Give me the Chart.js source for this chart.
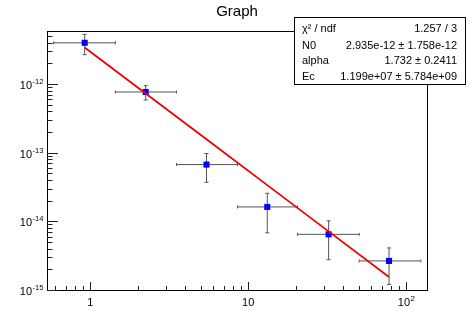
<!DOCTYPE html>
<html>
<head>
<meta charset="utf-8">
<script src="https://cdn.jsdelivr.net/npm/chart.js@4"></script>
<style>
  html, body { margin: 0; padding: 0; background: #fff; }
  #wrap { width: 474px; height: 323px; }
</style>
</head>
<body>
<div id="wrap"><canvas id="graph" width="474" height="323"></canvas></div>
<script>
// measured points (log bins in x)
const xVals = [0.92, 2.24, 5.44, 13.2, 32.3, 78];
const yVals = [3.97e-12, 7.64e-13, 6.7e-14, 1.62e-14, 6.46e-15, 2.65e-15];
const xLow = [0.585, 1.44, 3.51, 8.55, 20.5, 50.5];
const xHigh = [1.44, 3.51, 8.55, 20.5, 50.5, 124];
const yErr = [1.3e-12, 1.8e-13, 3.0e-14, 9.4e-15, 3.7e-15, 1.45e-15];

// fit result: N0 * x^-alpha * exp(-x/Ec)
const N0 = 2.935e-12;
const alpha = 1.732;
const Ec = 1.199e7;

const statLabels = ['χ² / ndf', 'N0', 'alpha', 'Ec'];
const statValues = ['1.257 / 3', '2.935e-12 ± 1.758e-12', '1.732 ± 0.2411', '1.199e+07 ± 5.784e+09'];

const xTickValues = [1, 10, 100];
const xTickBase = ['1', '10', '10'];
const xTickExp = ['', '', '2'];
const yTickExps = [-15, -14, -13, -12];

const FONT = '"Liberation Sans", Arial, Helvetica, sans-serif';

const points = xVals.map((x, i) => ({ x: x, y: yVals[i] }));
const fitLine = xVals.map(x => ({ x: x, y: N0 * Math.pow(x, -alpha) * Math.exp(-x / Ec) }));

function fitText(ctx, text, x, y, size, align) {
    ctx.font = size + 'px ' + FONT;
    ctx.textAlign = align;
    ctx.fillText(text, x, y);
}

// ROOT-like frame, inner ticks, error bars and stats box
const rootFrame = {
    id: 'rootFrame',
    beforeDatasetsDraw(chart) {
        const ctx = chart.ctx, xs = chart.scales.x, ys = chart.scales.y, a = chart.chartArea;
        ctx.save();
        ctx.beginPath();
        ctx.rect(a.left, a.top, a.right - a.left, a.bottom - a.top);
        ctx.clip();
        ctx.strokeStyle = '#555';
        ctx.lineWidth = 1;
        for (let i = 0; i < xVals.length; i++) {
            const px = xs.getPixelForValue(xVals[i]);
            const py = ys.getPixelForValue(yVals[i]);
            const x0 = xs.getPixelForValue(xLow[i]);
            const x1 = xs.getPixelForValue(xHigh[i]);
            const y0 = ys.getPixelForValue(yVals[i] + yErr[i]);
            const y1 = ys.getPixelForValue(Math.max(yVals[i] - yErr[i], 1e-18));
            ctx.beginPath();
            ctx.moveTo(x0, py); ctx.lineTo(x1, py);
            ctx.moveTo(px, y0); ctx.lineTo(px, y1);
            // end caps
            ctx.moveTo(x0, py - 1.5); ctx.lineTo(x0, py + 1.5);
            ctx.moveTo(x1, py - 1.5); ctx.lineTo(x1, py + 1.5);
            ctx.moveTo(px - 2, y0); ctx.lineTo(px + 2, y0);
            ctx.moveTo(px - 2, y1); ctx.lineTo(px + 2, y1);
            ctx.stroke();
        }
        ctx.restore();
    },
    afterDraw(chart) {
        const ctx = chart.ctx, xs = chart.scales.x, ys = chart.scales.y, a = chart.chartArea;
        ctx.save();

        // frame
        ctx.strokeStyle = '#000';
        ctx.lineWidth = 1;
        ctx.strokeRect(Math.round(a.left) + 0.5, Math.round(a.top) + 0.5,
            Math.round(a.right - a.left), Math.round(a.bottom - a.top));

        // x ticks
        ctx.strokeStyle = '#222';
        ctx.beginPath();
        for (let d = -1; d <= 2; d++) {
            for (let m = 1; m <= 9; m++) {
                const v = m * Math.pow(10, d);
                if (v < xs.min || v > xs.max) continue;
                const px = Math.round(xs.getPixelForValue(v)) + 0.5;
                const len = m === 1 ? 8 : 4;
                ctx.moveTo(px, a.bottom);
                ctx.lineTo(px, a.bottom - len);
            }
        }
        // y ticks
        for (let d = -16; d <= -11; d++) {
            for (let m = 1; m <= 9; m++) {
                const v = m * Math.pow(10, d);
                if (v < ys.min * 0.999 || v > ys.max) continue;
                const py = Math.round(ys.getPixelForValue(v)) + 0.5;
                const len = m === 1 ? 11 : 5.5;
                ctx.moveTo(a.left, py);
                ctx.lineTo(a.left + len, py);
            }
        }
        ctx.stroke();

        ctx.fillStyle = '#000';
        ctx.textBaseline = 'alphabetic';

        // x labels
        xTickValues.forEach((v, i) => {
            const px = xs.getPixelForValue(v);
            if (xTickExp[i]) {
                fitText(ctx, xTickBase[i], px + 4, 305.5, 11, 'right');
                fitText(ctx, xTickExp[i], px + 4.5, 300.5, 8, 'left');
            } else {
                fitText(ctx, xTickBase[i], px, 305.5, 11, 'center');
            }
        });

        // y labels
        yTickExps.forEach(e => {
            const py = ys.getPixelForValue(Math.pow(10, e));
            fitText(ctx, '10', 32, py + 5, 11, 'right');
            fitText(ctx, '-' + Math.abs(e), 32.5, py, 7.5, 'left');
        });

        // title
        fitText(ctx, 'Graph', 237, 16, 15, 'center');

        // stats box
        const bx = 294, by = 17, bw = 171, bh = 67;
        ctx.fillStyle = '#fff';
        ctx.fillRect(bx, by, bw, bh);
        ctx.strokeStyle = '#000';
        ctx.strokeRect(bx + 0.5, by + 0.5, bw, bh);
        ctx.fillStyle = '#000';
        ctx.textBaseline = 'middle';
        const rowY = [29, 45.5, 61, 77];
        statLabels.forEach((t, i) => {
            fitText(ctx, t, 302, rowY[i], 11, 'left');
            fitText(ctx, statValues[i], 457, rowY[i], 11, 'right');
        });

        ctx.restore();
    }
};

new Chart(document.getElementById('graph'), {
    type: 'scatter',
    data: {
        datasets: [
            {
                label: 'fit',
                data: fitLine,
                showLine: true,
                borderColor: '#ee0000',
                borderWidth: 1.8,
                pointRadius: 0,
                fill: false
            },
            {
                label: 'Graph',
                data: points,
                pointStyle: 'rect',
                pointRadius: 4.3,
                backgroundColor: '#0000ff',
                borderColor: '#0000ff',
                borderWidth: 0
            }
        ]
    },
    options: {
        responsive: false,
        animation: false,
        layout: { padding: { left: 47, top: 31, right: 47, bottom: 33 } },
        scales: {
            x: { type: 'logarithmic', min: 0.531, max: 135.7, display: false },
            y: { type: 'logarithmic', min: 1e-15, max: 5.9e-12, display: false }
        },
        plugins: {
            legend: { display: false },
            tooltip: { enabled: false }
        }
    },
    plugins: [rootFrame]
});
</script>
</body>
</html>
